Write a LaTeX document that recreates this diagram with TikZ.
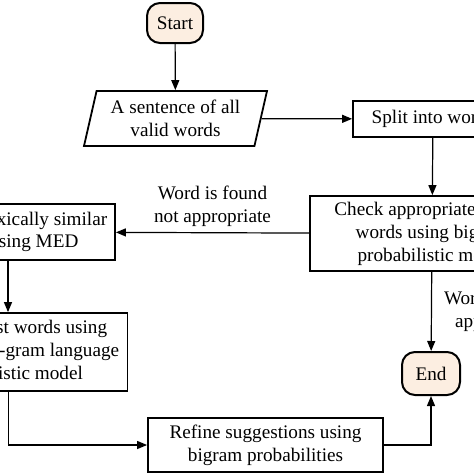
\documentclass[tikz,border=0pt]{standalone}
\usepackage{fontspec}
\setmainfont{Liberation Serif}
\usetikzlibrary{shapes.geometric,arrows.meta}
\definecolor{termfill}{RGB}{252,238,225}
\tikzset{
  terminal/.style={draw, line width=2pt, rounded corners=13pt, fill=termfill, inner sep=0pt},
  process/.style={draw, line width=1.8pt, align=center, inner sep=0pt},
  inputbox/.style={draw, line width=1.8pt, align=center, inner sep=0pt, trapezium,
    trapezium left angle=71, trapezium right angle=109, trapezium stretches body},
  flow/.style={->, line width=1.2pt},
  note/.style={align=center, inner sep=0pt}
}
\begin{document}
\begin{tikzpicture}[x=1pt, y=-1pt, font=\fontsize{19.2}{22.8}\selectfont,
  >={Triangle[length=10pt,width=8pt]}]
\useasboundingbox (0,0) rectangle (474,474);
\clip (0,0) rectangle (474,474);

% Terminals
\node[terminal, minimum width=56pt, minimum height=40pt] (start) at (175,23) {Start};
\node[terminal, minimum width=58pt, minimum height=43pt] (end) at (431,373.5) {End};

% Input and processing steps
\node[inputbox, minimum width=183pt, minimum height=55pt] (input) at (175.5,118.5) {A sentence of all\\valid words};
\node[process, minimum width=160pt, minimum height=36pt] (split) at (433,119) {Split into words};
\node[process, minimum width=244pt, minimum height=75pt] (check) at (432,233.5)
  {Check appropriateness of\\words using bigram\\probabilistic model};
\node[process, minimum width=214pt, minimum height=56pt] (lex) at (8,232)
  {Generate lexically similar\\words using MED};
\node[process, minimum width=238pt, minimum height=78pt] (rank) at (8.5,352)
  {Find the best words using\\the trained bi-gram language\\probabilistic model};
\node[process, minimum width=235pt, minimum height=54pt] (refine) at (265.5,445)
  {Refine suggestions using\\bigram probabilities};

% Connectors
\draw[flow] (start) -- (input);
\draw[flow] (input) -- (split);
\draw[flow] (split) -- (check);
\draw[flow] (check) -- (lex) node[note, midway, above=6pt] {Word is found\\not appropriate};
\draw[flow] (lex.south) -- (lex.south |- rank.north);
\draw[flow] (rank.south) |- (refine.west);
\draw[flow] (refine.east) -| (end.south);
\draw[flow] (check) -- (end) node[note, midway, right=12pt] {Word is found\\appropriate};

\end{tikzpicture}
\end{document}
